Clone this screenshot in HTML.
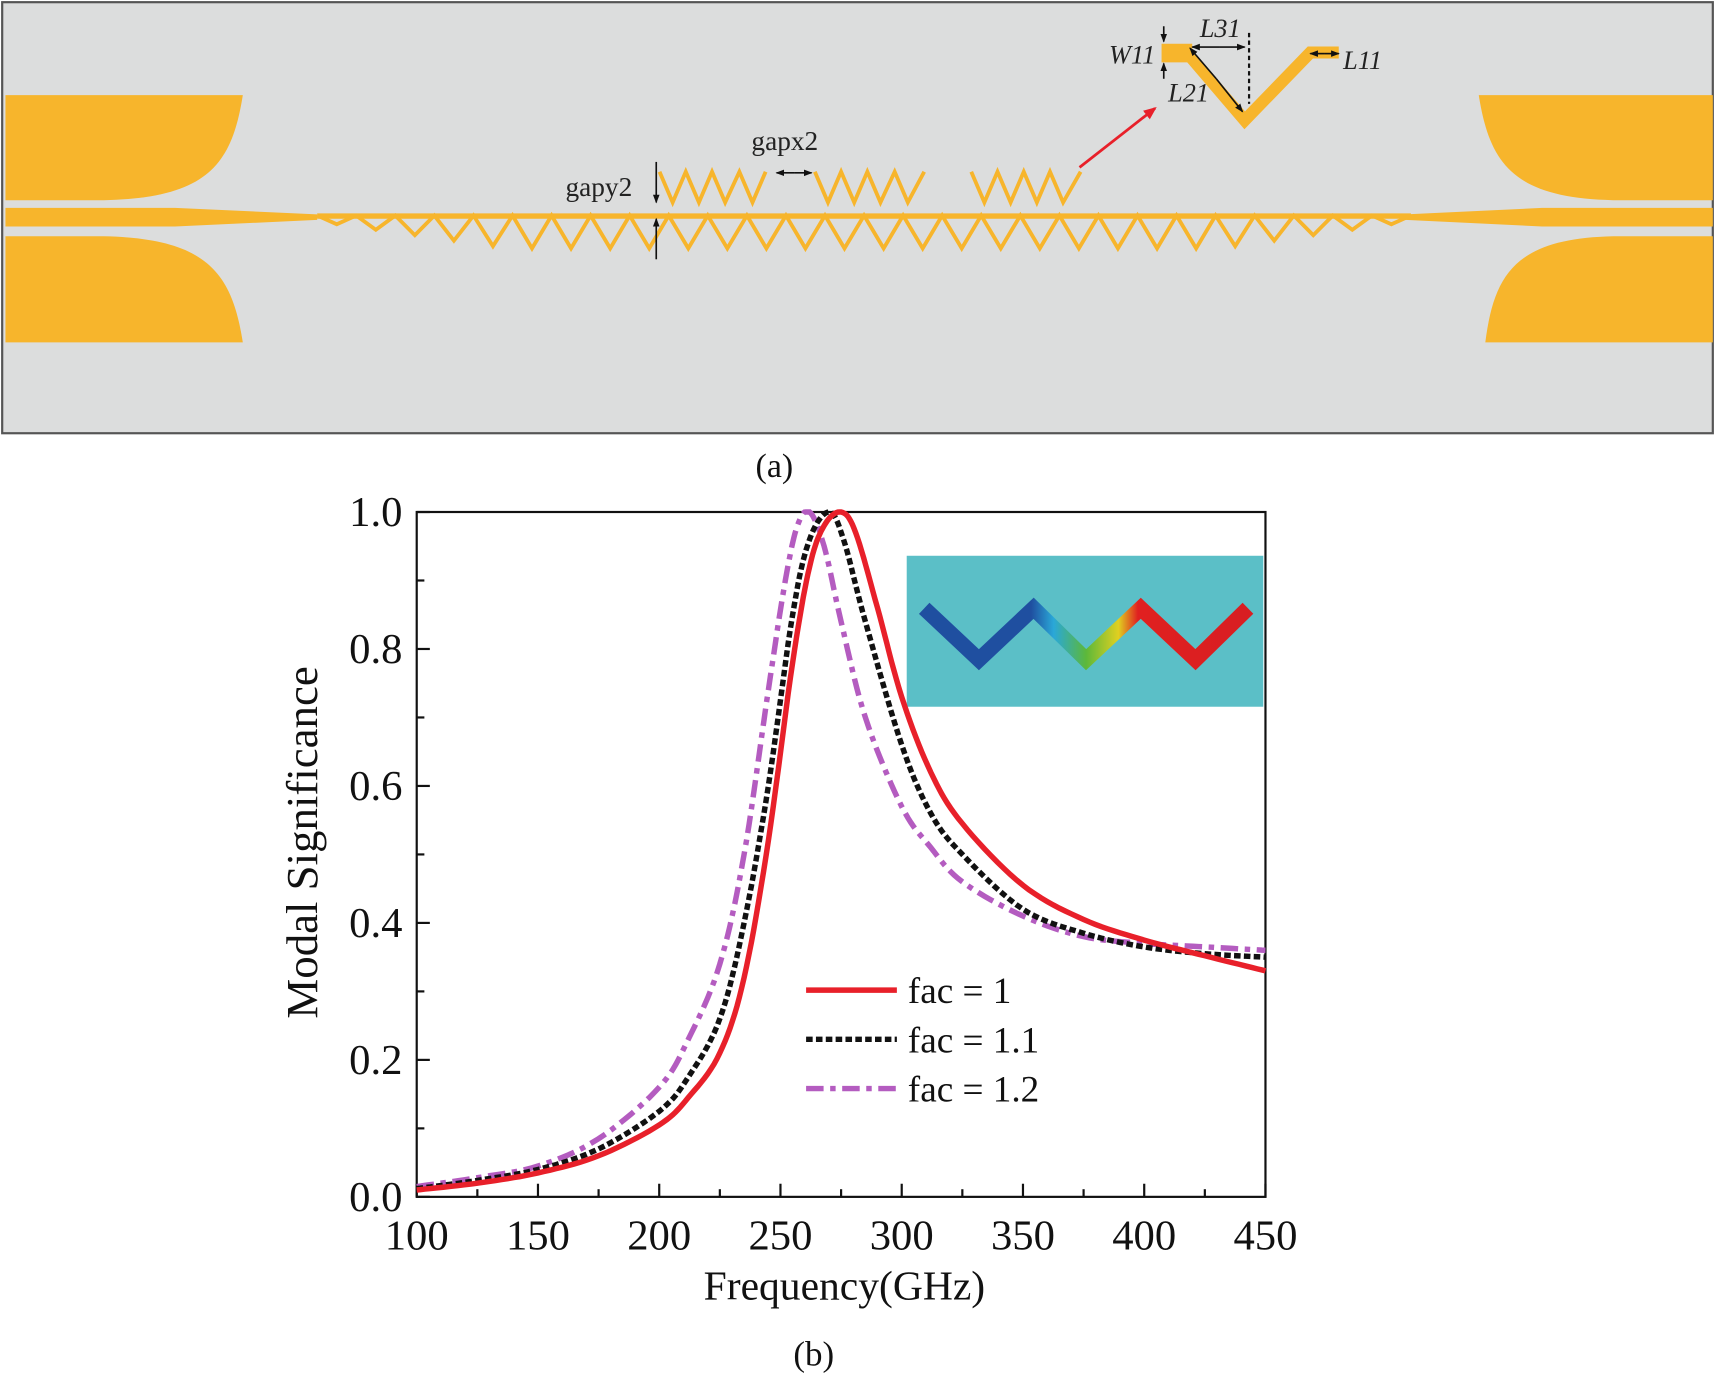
<!DOCTYPE html>
<html><head><meta charset="utf-8"><style>html,body{margin:0;padding:0;background:#fff}svg{display:block}</style></head>
<body>
<svg id="s" width="1715" height="1373" viewBox="0 0 1568 1255" preserveAspectRatio="none" xmlns="http://www.w3.org/2000/svg" font-family="Liberation Serif, serif">
<defs>
<marker id="ah" markerWidth="8" markerHeight="8" refX="7" refY="4" orient="auto" markerUnits="userSpaceOnUse"><path d="M0,1 L8,4 L0,7 Z" fill="#111"/></marker>
<marker id="ahr" markerWidth="12" markerHeight="12" refX="10" refY="6" orient="auto" markerUnits="userSpaceOnUse"><path d="M0,1 L12,6 L0,11 Z" fill="#e8202a"/></marker>
<linearGradient id="gr" x1="0" x2="1" y1="0" y2="0">
<stop offset="0" stop-color="#1f4fa0"/><stop offset="0.33" stop-color="#1f4fa0"/><stop offset="0.40" stop-color="#2aa8d8"/><stop offset="0.5" stop-color="#5cb83a"/><stop offset="0.6" stop-color="#e0d020"/><stop offset="0.66" stop-color="#e02020"/><stop offset="1" stop-color="#d81e22"/></linearGradient>
</defs>
<rect x="2" y="2" width="1564" height="394" fill="#dcdddd" stroke="#555" stroke-width="2"/>
<g fill="#f7b52c">
<path d="M5,87 L222,87 C212,150 190,181 95,183 L5,183 Z"/>
<path d="M5,313 L222,313 C212,250 190,218 95,216 L5,216 Z"/>
<path d="M1566,87 L1352,87 C1362,150 1384,181 1475,183 L1566,183 Z"/>
<path d="M1566,313 L1358,313 C1366,250 1386,218 1475,216 L1566,216 Z"/>
<path d="M5,190 L160,190 L290,196 L290,201 L160,207 L5,207 Z"/>
<path d="M1566,190 L1410,190 L1285,196 L1285,201 L1410,207 L1566,207 Z"/>
</g>
<g id="zz" fill="none" stroke="#f7b52c" stroke-width="3.5"></g>
<g fill="none" stroke="#f7b52c" stroke-width="3.5">
<path d="M603,157 L615,185 L627,157 L639,185 L651,157 L663,185 L676,157 L688,185 L700,157"/>
<path d="M745,157 L757,185 L769,157 L781,185 L793,157 L805,185 L818,157 L830,185 L845,157"/>
<path d="M888,157 L900,185 L912,157 L924,185 L936,157 L948,185 L960,157 L972,185 L988,157"/>
</g>
<g stroke="#111" stroke-width="1.5" fill="none">
<line x1="600" y1="148" x2="600" y2="185" marker-end="url(#ah)"/>
<line x1="600" y1="237" x2="600" y2="200" marker-end="url(#ah)"/>
<line x1="726" y1="158" x2="742" y2="158" marker-end="url(#ah)"/>
<line x1="726" y1="158" x2="710" y2="158" marker-end="url(#ah)"/>
</g>
<text x="517" y="179" font-size="25" fill="#222">gapy2</text>
<text x="687" y="137" font-size="25" fill="#222">gapx2</text>
<line x1="987" y1="153" x2="1056" y2="99" stroke="#e8202a" stroke-width="2.5" marker-end="url(#ahr)"/>
<rect x="1062" y="40" width="28" height="17" fill="#f7b52c"/>
<path d="M1085,48 L1138,110 L1198,48 L1224,48" fill="none" stroke="#f7b52c" stroke-width="11"/>
<line x1="1142" y1="30" x2="1142" y2="95" stroke="#111" stroke-width="2" stroke-dasharray="4,3"/>
<g stroke="#111" stroke-width="1.5" fill="none">
<line x1="1064" y1="24" x2="1064" y2="38" marker-end="url(#ah)"/>
<line x1="1064" y1="72" x2="1064" y2="58" marker-end="url(#ah)"/>
<line x1="1115" y1="43" x2="1138" y2="43" marker-end="url(#ah)"/>
<line x1="1115" y1="43" x2="1090" y2="43" marker-end="url(#ah)"/>
<line x1="1112" y1="72" x2="1136" y2="102" marker-end="url(#ah)"/>
<line x1="1112" y1="72" x2="1088" y2="44" marker-end="url(#ah)"/>
<line x1="1211" y1="49" x2="1224" y2="49" marker-end="url(#ah)"/>
<line x1="1211" y1="49" x2="1198" y2="49" marker-end="url(#ah)"/>
</g>
<g font-size="24" font-style="italic" fill="#222">
<text x="1014" y="58">W11</text><text x="1097" y="34">L31</text><text x="1068" y="93">L21</text><text x="1228" y="63">L11</text>
</g>
<text x="708" y="436" font-size="31" text-anchor="middle" fill="#111">(a)</text>

<rect x="829" y="508" width="326" height="138" fill="#5bbfc7"/>
<path d="M845,556 L895,603 L945,556 L993,603 L1043,556 L1093,603 L1141,556" fill="none" stroke="url(#gr)" stroke-width="14" stroke-linejoin="miter"/>

<g id="ax" stroke="#111" stroke-width="2" fill="none"></g>
<g id="cv" fill="none"></g>
<g id="tl" font-size="39" fill="#111"></g>
<text x="772" y="1188" font-size="38" text-anchor="middle" fill="#111">Frequency(GHz)</text>
<text transform="translate(290,770) rotate(-90)" font-size="41" text-anchor="middle" fill="#111">Modal Significance</text>
<text x="744" y="1248" font-size="32" text-anchor="middle" fill="#111">(b)</text>
<g font-size="34" fill="#111">
<line x1="737" y1="905" x2="820" y2="905" stroke="#e8202a" stroke-width="5"/>
<line x1="737" y1="950" x2="820" y2="950" stroke="#111" stroke-width="5" stroke-dasharray="6,3"/>
<line x1="737" y1="995" x2="820" y2="995" stroke="#b45cc0" stroke-width="5" stroke-dasharray="16,6,5,6"/>
<text x="830" y="917">fac = 1</text><text x="830" y="962">fac = 1.1</text><text x="830" y="1007">fac = 1.2</text>
</g>
</svg>
<script>
var NS="http://www.w3.org/2000/svg";
function el(p,t,a,txt){var e=document.createElementNS(NS,t);for(var k in a)e.setAttribute(k,a[k]);if(txt!=null)e.textContent=txt;p.appendChild(e);return e;}
var zz=document.getElementById('zz'),d="M290,197";var x0=290,x1=1290,n=28,P=(x1-x0)/n;
for(var i=0;i<n;i++){var a=x0+i*P,c=a+P/2,m=Math.min(i,n-1-i);var amp=Math.min(30,8+m*5);d+=" L"+c.toFixed(1)+","+(197+amp)+" L"+(a+P).toFixed(1)+",197";}
el(zz,'path',{d:d});el(zz,'line',{x1:290,y1:197.5,x2:1290,y2:197.5,'stroke-width':5});
var X=function(f){return 381+(f-100)*776/350},Y=function(v){return 1094-v*626};
var ax=document.getElementById('ax'),tl=document.getElementById('tl');
el(ax,'rect',{x:381,y:468,width:776,height:626});
for(var f=100;f<=450;f+=25){var L=(f%50==0)?12:7;el(ax,'line',{x1:X(f),y1:1094,x2:X(f),y2:1094-L});if(f%50==0)el(tl,'text',{x:X(f),y:1142,'text-anchor':'middle'},f);}
for(var k=0;k<=10;k++){var v=k/10,L=(k%2==0)?12:7;el(ax,'line',{x1:381,y1:Y(v),x2:381+L,y2:Y(v)});if(k%2==0)el(tl,'text',{x:368,y:Y(v)+13,'text-anchor':'end'},v.toFixed(1));}
function spline(pts){var s="M"+X(pts[0][0])+","+Y(pts[0][1]);for(var i=0;i<pts.length-1;i++){var p0=pts[Math.max(0,i-1)],p1=pts[i],p2=pts[i+1],p3=pts[Math.min(pts.length-1,i+2)];
for(var t=0.1;t<=1.001;t+=0.1){var t2=t*t,t3=t2*t;var fx=0.5*((2*p1[0])+(-p0[0]+p2[0])*t+(2*p0[0]-5*p1[0]+4*p2[0]-p3[0])*t2+(-p0[0]+3*p1[0]-3*p2[0]+p3[0])*t3);
var fy=0.5*((2*p1[1])+(-p0[1]+p2[1])*t+(2*p0[1]-5*p1[1]+4*p2[1]-p3[1])*t2+(-p0[1]+3*p1[1]-3*p2[1]+p3[1])*t3);fy=Math.min(1,fy);s+=" L"+X(fx).toFixed(1)+","+Y(fy).toFixed(1);}}return s;}
var cv=document.getElementById('cv');
var pu=[[100,0.015],[125,0.028],[150,0.045],[175,0.085],[200,0.16],[212,0.23],[225,0.34],[235,0.5],[245,0.74],[252,0.9],[257,0.98],[262,1],[268,0.95],[275,0.84],[285,0.7],[300,0.57],[312,0.51],[325,0.46],[350,0.41],[375,0.38],[400,0.37],[425,0.365],[450,0.36]];
var bk=[[100,0.012],[125,0.024],[150,0.04],[175,0.07],[200,0.125],[212,0.175],[225,0.26],[235,0.4],[245,0.6],[255,0.85],[262,0.96],[270,1],[276,0.96],[285,0.84],[300,0.66],[312,0.56],[325,0.5],[350,0.42],[375,0.385],[400,0.365],[425,0.355],[450,0.35]];
var rd=[[100,0.01],[125,0.02],[150,0.035],[175,0.06],[200,0.105],[212,0.145],[225,0.21],[235,0.32],[245,0.52],[255,0.78],[262,0.92],[268,0.98],[275,1],[281,0.97],[290,0.86],[300,0.73],[312,0.62],[325,0.545],[350,0.455],[375,0.405],[400,0.375],[425,0.352],[450,0.33]];
el(cv,'path',{d:spline(pu),stroke:'#b45cc0','stroke-width':5,'stroke-dasharray':'16,6,5,6'});
el(cv,'path',{d:spline(bk),stroke:'#111','stroke-width':5,'stroke-dasharray':'6,3'});
el(cv,'path',{d:spline(rd),stroke:'#e8202a','stroke-width':5});
</script>
</body></html>
